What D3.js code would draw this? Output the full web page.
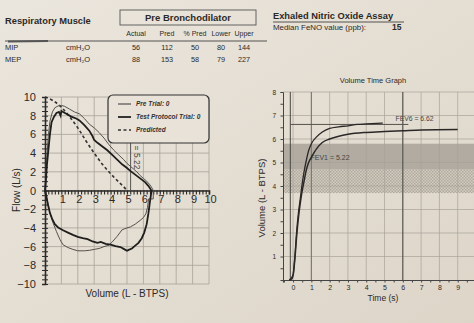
<!DOCTYPE html>
<html>
<head>
<meta charset="utf-8">
<script src="https://cdn.jsdelivr.net/npm/d3@7"></script>
<style>
  html, body { margin: 0; padding: 0; background: #e6e0d6; }
  svg { display: block; font-family: "Liberation Sans", Arial, sans-serif; }
</style>
</head>
<body>
<svg id="page" width="474" height="323"></svg>
<script>
// ---- Respiratory muscle table ----
const muscleColumns = ["Actual", "Pred", "% Pred", "Lower", "Upper"];
const muscleRows = ["MIP", "MEP"];
const muscleUnits = ["cmH\u2082O", "cmH\u2082O"];
const mipValues = [56, 112, 50, 80, 144];
const mepValues = [88, 153, 58, 79, 227];

// ---- FeNO ----
const fenoMedian = 15;

// ---- Flow-volume loop (volume L, flow L/s) ----
const flowTicks = [-10, -8, -6, -4, -2, 0, 2, 4, 6, 8, 10];
const volumeTicks = [1, 2, 3, 4, 5, 6, 7, 8, 9, 10];
const legendLabels = ["Pre Trial: 0", "Test Protocol Trial: 0", "Predicted"];
const fev1Volume = 5.22;

const preTrialLoop = [
  [0,0],[0.05,1.5],[0.12,3.8],[0.2,5.8],[0.3,7.4],[0.45,8.4],[0.6,8.85],[0.8,9.05],[1.0,9.1],
  [1.2,9.0],[1.5,8.7],[1.8,8.4],[2.1,8.2],[2.4,7.7],[2.7,7.1],[3.0,6.7],[3.3,6.2],[3.6,5.6],
  [3.9,4.9],[4.2,4.3],[4.5,3.8],[4.8,3.3],[5.0,2.9],[5.2,2.6],[5.4,2.3],[5.6,2.0],[5.8,1.6],
  [6.0,1.3],[6.2,1.0],[6.4,0.6],[6.55,0.2],[6.6,0],
  [6.6,-0.9],[6.32,-0.9],[6.25,-1.8],[6.15,-2.5],[6.0,-2.9],[5.8,-3.2],[5.5,-3.6],[5.2,-3.9],
  [5.0,-4.0],[4.7,-4.2],[4.4,-4.9],[4.1,-5.5],[3.9,-5.85],[3.6,-6.0],[3.3,-6.2],[3.0,-6.3],
  [2.7,-6.4],[2.4,-6.45],[2.0,-6.45],[1.7,-6.3],[1.4,-6.1],[1.1,-5.8],[0.9,-5.2],[0.7,-4.4],
  [0.5,-3.5],[0.3,-2.4],[0.15,-1.2],[0.05,-0.3],[0,0]
];

const testProtocolLoop = [
  [0,0],[0.05,1.0],[0.12,2.8],[0.2,4.2],[0.3,6.0],[0.4,7.3],[0.55,7.9],[0.7,8.3],[0.85,8.4],
  [0.95,8.0],[1.0,8.5],[1.1,8.4],[1.3,8.2],[1.6,7.9],[1.9,7.7],[2.1,7.5],[2.4,7.0],[2.7,6.4],
  [2.9,5.8],[3.0,5.4],[3.2,5.1],[3.5,4.7],[3.8,4.3],[4.1,3.8],[4.4,3.3],[4.7,2.8],[5.0,2.4],
  [5.2,2.1],[5.5,1.7],[5.8,1.3],[6.1,0.9],[6.3,0.5],[6.45,0.1],[6.5,0],
  [6.4,-1.2],[6.3,-2.5],[6.2,-3.6],[6.05,-4.5],[5.9,-5.1],[5.7,-5.6],[5.5,-5.9],[5.3,-6.2],
  [5.1,-6.35],[5.0,-6.45],[4.85,-6.3],[4.6,-6.05],[4.3,-5.95],[4.0,-5.8],[3.7,-5.7],[3.4,-5.5],
  [3.2,-5.6],[2.9,-5.45],[2.6,-5.2],[2.3,-5.1],[2.0,-4.95],[1.7,-4.75],[1.4,-4.5],[1.1,-4.25],
  [0.8,-3.95],[0.6,-3.6],[0.45,-3.1],[0.3,-2.4],[0.18,-1.5],[0.08,-0.6],[0,0]
];

const predictedCurve = [
  [0,10],[0.5,9.6],[1.0,8.9],[1.5,7.9],[2.0,6.7],[2.5,5.3],[3.0,4.0],[3.5,2.8],[4.0,1.8],
  [4.5,0.9],[4.8,0.4],[4.95,0.1]
];

// ---- Volume-time graph (time s, volume L) ----
const timeTicks = [0, 1, 2, 3, 4, 5, 6, 7, 8, 9];
const vtVolumeTicks = [1, 2, 3, 4, 5, 6, 7, 8];
const fev6Value = 6.62;
const fev1Value = 5.22;
const predictedBand = [4.7, 5.8];
const lowerLimitBand = [3.7, 4.7];
const timeMarkers = [-0.15, 1, 6];

const vtUpperCurve = [
  [-0.2,0],[-0.05,0.05],[0,0.2],[0.1,1.0],[0.2,2.1],[0.3,2.9],[0.4,3.5],[0.5,4.1],[0.6,4.6],
  [0.7,5.0],[0.85,5.5],[1.0,5.8],[1.3,6.1],[1.6,6.3],[2.0,6.45],[2.5,6.52],[3.0,6.56],
  [3.5,6.62],[4.0,6.64],[4.9,6.68]
];
const vtLowerCurve = [
  [-0.2,0],[0,0.2],[0.1,0.9],[0.2,1.9],[0.3,2.7],[0.4,3.3],[0.5,3.8],[0.6,4.2],[0.7,4.6],
  [0.85,5.0],[1.0,5.22],[1.3,5.6],[1.6,5.85],[2.0,6.0],[2.5,6.12],[3.0,6.2],[4.0,6.28],
  [5.0,6.32],[6.0,6.35],[7.0,6.38],[9.0,6.4]
];

// ---------------------------------------------------------------
const svg = d3.select("#page");
const ink = "#2b2a28";
const gridCol = "#a8a298";
const font = '"Liberation Sans", Arial, sans-serif';

// paper background with a soft falloff toward the lower right
const defs = svg.append("defs");
const bg = defs.append("linearGradient").attr("id", "paper")
  .attr("x1", "0").attr("y1", "0").attr("x2", "1").attr("y2", "1");
bg.append("stop").attr("offset", "0").attr("stop-color", "#ebe6dd");
bg.append("stop").attr("offset", "1").attr("stop-color", "#ddd5c8");
svg.append("rect").attr("width", 474).attr("height", 323).attr("fill", "url(#paper)");

// hatch pattern for the lower band
const hatch = defs.append("pattern").attr("id", "hatch")
  .attr("width", 3).attr("height", 3).attr("patternUnits", "userSpaceOnUse");
hatch.append("rect").attr("width", 3).attr("height", 3).attr("fill", "#d3ccc1");
hatch.append("rect").attr("width", 1.5).attr("height", 1.5).attr("fill", "#b0a99d");
hatch.append("rect").attr("x", 1.5).attr("y", 1.5).attr("width", 1.5).attr("height", 1.5).attr("fill", "#b0a99d");

// ---- Table header ----
svg.append("text").attr("x", 5).attr("y", 24).attr("font-size", 9.3).attr("font-weight", "bold")
  .attr("fill", ink).text("Respiratory Muscle");
svg.append("rect").attr("x", 120).attr("y", 10).attr("width", 136).attr("height", 15)
  .attr("fill", "none").attr("stroke", "#555").attr("stroke-width", 0.9);
svg.append("text").attr("x", 188).attr("y", 21).attr("text-anchor", "middle")
  .attr("font-size", 9.5).attr("font-weight", "bold").attr("fill", ink).text("Pre Bronchodilator");

const colX = [136, 167, 195, 221, 244];
muscleColumns.forEach((c, i) => {
  svg.append("text").attr("x", colX[i]).attr("y", 36).attr("text-anchor", "middle")
    .attr("font-size", 7).attr("fill", ink).text(c);
});
svg.append("line").attr("x1", 5).attr("x2", 267).attr("y1", 41).attr("y2", 41)
  .attr("stroke", "#444").attr("stroke-width", 0.9);
svg.append("line").attr("x1", 8).attr("x2", 48).attr("y1", 41.5).attr("y2", 41)
  .attr("stroke", "#555").attr("stroke-width", 1.8);

[mipValues, mepValues].forEach((vals, r) => {
  const y = 50 + r * 11.5;
  svg.append("text").attr("x", 5).attr("y", y).attr("font-size", 7.5).attr("fill", ink).text(muscleRows[r]);
  svg.append("text").attr("x", 66).attr("y", y).attr("font-size", 7.5).attr("fill", ink).text(muscleUnits[r]);
  vals.forEach((v, i) => {
    svg.append("text").attr("x", colX[i]).attr("y", y).attr("text-anchor", "middle")
      .attr("font-size", 7.3).attr("fill", ink).text(v);
  });
});

// ---- FeNO block ----
svg.append("text").attr("x", 273).attr("y", 19).attr("font-size", 9.3).attr("font-weight", "bold")
  .attr("fill", ink).text("Exhaled Nitric Oxide Assay");
svg.append("line").attr("x1", 273).attr("x2", 404).attr("y1", 22).attr("y2", 22)
  .attr("stroke", "#444").attr("stroke-width", 0.9);
svg.append("text").attr("x", 273).attr("y", 30).attr("font-size", 7.9).attr("fill", ink)
  .text("Median FeNO value (ppb):");
svg.append("text").attr("x", 392).attr("y", 30).attr("font-size", 8.5).attr("font-weight", "bold")
  .attr("fill", ink).text(fenoMedian);

// ================= Flow-volume loop =================
const xL = d3.scaleLinear().domain([0, 10]).range([45, 209]);
const yL = d3.scaleLinear().domain([-10, 10]).range([284, 97]);
const gL = svg.append("g");

// grid
gL.selectAll(".vg").data(volumeTicks).join("line")
  .attr("x1", d => xL(d)).attr("x2", d => xL(d)).attr("y1", yL(10)).attr("y2", yL(-10))
  .attr("stroke", gridCol).attr("stroke-width", 0.8);
gL.selectAll(".hg").data(flowTicks).join("line")
  .attr("x1", xL(0)).attr("x2", xL(10)).attr("y1", d => yL(d)).attr("y2", d => yL(d))
  .attr("stroke", gridCol).attr("stroke-width", 0.8);

// y axis: labelled majors plus minor ticks every 0.5
const yMinor = d3.range(-10, 10.01, 0.5);
gL.append("g").attr("transform", `translate(${xL(0)},0)`)
  .call(d3.axisLeft(yL).tickValues(yMinor).tickSize(3).tickFormat(""))
  .call(g => g.selectAll("line").attr("x2", 3).attr("x1", -3).attr("stroke", ink).attr("stroke-width", 1))
  .call(g => g.select(".domain").attr("stroke", ink).attr("stroke-width", 1.6));
gL.append("g").attr("transform", `translate(${xL(0)},0)`)
  .call(d3.axisLeft(yL).tickValues(flowTicks).tickSize(0).tickPadding(9))
  .call(g => g.select(".domain").remove())
  .call(g => g.selectAll("text").attr("font-size", 11).attr("font-family", font).attr("fill", ink));

// x axis along zero flow: dense ruler ticks and labels
const xMinor = d3.range(0, 10.01, 0.2);
gL.append("g").attr("transform", `translate(0,${yL(0)})`)
  .call(d3.axisBottom(xL).tickValues(xMinor).tickSize(4).tickFormat(""))
  .call(g => g.selectAll("line").attr("stroke", ink).attr("stroke-width", 1.1))
  .call(g => g.select(".domain").attr("stroke", ink).attr("stroke-width", 1.6));
gL.append("g").attr("transform", `translate(0,${yL(0)})`)
  .call(d3.axisBottom(xL).tickValues(volumeTicks).tickSize(0).tickPadding(5))
  .call(g => g.select(".domain").remove())
  .call(g => g.selectAll("text").attr("font-size", 11).attr("font-family", font).attr("fill", ink)
    .attr("dx", 1));

// FEV1 marker line
gL.append("line").attr("x1", xL(fev1Volume)).attr("x2", xL(fev1Volume))
  .attr("y1", yL(10)).attr("y2", yL(0)).attr("stroke", "#555").attr("stroke-width", 1);
gL.append("text")
  .attr("transform", `translate(${xL(fev1Volume) + 3},${yL(4.8)}) rotate(90)`)
  .attr("font-size", 8.5).attr("fill", "#444").text("= " + fev1Volume.toFixed(2));

const lineL = d3.line().x(d => xL(d[0])).y(d => yL(d[1]));
gL.append("path").datum(predictedCurve).attr("d", lineL.curve(d3.curveMonotoneX))
  .attr("fill", "none").attr("stroke", "#333").attr("stroke-width", 1.6).attr("stroke-dasharray", "3,2.5");
lineL.curve(d3.curveLinear);
gL.append("path").datum(preTrialLoop).attr("d", lineL)
  .attr("fill", "none").attr("stroke", "#55524d").attr("stroke-width", 1);
gL.append("path").datum(testProtocolLoop).attr("d", lineL)
  .attr("fill", "none").attr("stroke", "#1f1e1c").attr("stroke-width", 1.8);

// legend
const lg = gL.append("g");
lg.append("rect").attr("x", 108).attr("y", 95).attr("width", 101).attr("height", 48).attr("rx", 5)
  .attr("fill", "#e8e2d8").attr("stroke", "#333").attr("stroke-width", 1.2);
const legendY = [106, 119, 132];
const legendStyle = [
  { w: 1.1, dash: null, c: "#444" },
  { w: 1.8, dash: null, c: "#222" },
  { w: 1.6, dash: "3,2.5", c: "#333" }
];
legendLabels.forEach((t, i) => {
  lg.append("line").attr("x1", 118).attr("x2", 131).attr("y1", legendY[i] - 2).attr("y2", legendY[i] - 2)
    .attr("stroke", legendStyle[i].c).attr("stroke-width", legendStyle[i].w)
    .attr("stroke-dasharray", legendStyle[i].dash);
  lg.append("text").attr("x", 136).attr("y", legendY[i]).attr("font-size", 6.5)
    .attr("font-weight", "bold").attr("font-style", "italic").attr("fill", "#333").text(t);
});

// axis titles
svg.append("text").attr("x", 127).attr("y", 297).attr("text-anchor", "middle")
  .attr("font-size", 10).attr("fill", ink).text("Volume (L - BTPS)");
svg.append("text").attr("transform", "translate(20,190) rotate(-90)").attr("text-anchor", "middle")
  .attr("font-size", 10).attr("fill", ink).text("Flow (L/s)");

// ================= Volume-time graph =================
const xR = d3.scaleLinear().domain([-0.55, 10]).range([283, 476]);
const yR = d3.scaleLinear().domain([0, 8]).range([280, 92]);
const gR = svg.append("g");

svg.append("text").attr("x", 373).attr("y", 83).attr("text-anchor", "middle")
  .attr("font-size", 7.5).attr("fill", ink).text("Volume Time Graph");

// bands
gR.append("rect").attr("x", xR(-0.55)).attr("width", 474 - xR(-0.55))
  .attr("y", yR(lowerLimitBand[1])).attr("height", yR(lowerLimitBand[0]) - yR(lowerLimitBand[1]))
  .attr("fill", "url(#hatch)");
gR.append("rect").attr("x", xR(-0.55)).attr("width", 474 - xR(-0.55))
  .attr("y", yR(predictedBand[1])).attr("height", yR(predictedBand[0]) - yR(predictedBand[1]))
  .attr("fill", "#b1aba1");

// grid
gR.selectAll(".vg").data(d3.range(0, 11)).join("line")
  .attr("x1", d => xR(d)).attr("x2", d => xR(d)).attr("y1", yR(8)).attr("y2", yR(0))
  .attr("stroke", gridCol).attr("stroke-width", 0.7);
gR.selectAll(".hg").data(vtVolumeTicks).join("line")
  .attr("x1", xR(-0.55)).attr("x2", 474).attr("y1", d => yR(d)).attr("y2", d => yR(d))
  .attr("stroke", gridCol).attr("stroke-width", 0.7);

// time markers
gR.selectAll(".tm").data(timeMarkers).join("line")
  .attr("x1", d => xR(d)).attr("x2", d => xR(d)).attr("y1", yR(8)).attr("y2", yR(0))
  .attr("stroke", (d, i) => i === 1 ? "#77726a" : "#4a4843").attr("stroke-width", 1);

// axes
gR.append("g").attr("transform", `translate(${xR(-0.55)},0)`)
  .call(d3.axisLeft(yR).tickValues(d3.range(0.5, 8.01, 0.5)).tickSize(2.5).tickFormat(""))
  .call(g => g.selectAll("line").attr("stroke", "#444"))
  .call(g => g.select(".domain").attr("stroke", "#444").attr("stroke-width", 1));
gR.append("g").attr("transform", `translate(${xR(-0.55)},0)`)
  .call(d3.axisLeft(yR).tickValues(vtVolumeTicks).tickSize(0).tickPadding(7))
  .call(g => g.select(".domain").remove())
  .call(g => g.selectAll("text").attr("font-size", 6.5).attr("font-family", font).attr("fill", ink));
gR.append("g").attr("transform", `translate(0,${yR(0)})`)
  .call(d3.axisBottom(xR).tickValues(d3.range(-0.5, 10.01, 0.5)).tickSize(2.5).tickFormat(""))
  .call(g => g.selectAll("line").attr("stroke", "#444"))
  .call(g => g.select(".domain").attr("stroke", "#444").attr("stroke-width", 1.2));
gR.append("g").attr("transform", `translate(0,${yR(0)})`)
  .call(d3.axisBottom(xR).tickValues(timeTicks).tickSize(0).tickPadding(5))
  .call(g => g.select(".domain").remove())
  .call(g => g.selectAll("text").attr("font-size", 7).attr("font-family", font).attr("fill", ink));

// FEV6 reference line + labels
gR.append("line").attr("x1", xR(-0.15)).attr("x2", xR(6.3)).attr("y1", yR(fev6Value)).attr("y2", yR(fev6Value))
  .attr("stroke", "#55524c").attr("stroke-width", 1);
gR.append("text").attr("x", xR(5.6)).attr("y", yR(fev6Value) - 3).attr("font-size", 6.8)
  .attr("fill", "#444").text("FEV6 = " + fev6Value.toFixed(2));
gR.append("text").attr("x", xR(0.95)).attr("y", yR(fev1Value) + 3).attr("font-size", 7)
  .attr("fill", "#444").text("FEV1 = " + fev1Value.toFixed(2));

const lineR = d3.line().x(d => xR(d[0])).y(d => yR(d[1])).curve(d3.curveMonotoneX);
gR.append("path").datum(vtUpperCurve).attr("d", lineR)
  .attr("fill", "none").attr("stroke", "#2a2826").attr("stroke-width", 1.3);
gR.append("path").datum(vtLowerCurve).attr("d", lineR)
  .attr("fill", "none").attr("stroke", "#2a2826").attr("stroke-width", 1.5);

svg.append("text").attr("x", 383).attr("y", 301).attr("text-anchor", "middle")
  .attr("font-size", 8.5).attr("fill", ink).text("Time (s)");
svg.append("text").attr("transform", "translate(265,198) rotate(-90)").attr("text-anchor", "middle")
  .attr("font-size", 9.5).attr("fill", ink).text("Volume (L - BTPS)");
</script>
</body>
</html>
